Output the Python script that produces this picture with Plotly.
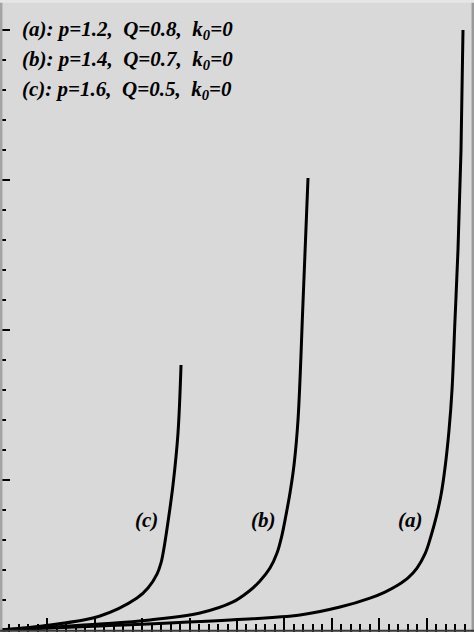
import plotly.graph_objects as go

# curve data
a_x = [0.0, 2.110, 4.852, 6.329, 7.173, 7.806, 8.122, 8.397, 8.608, 8.797, 8.966, 9.093,
       9.198, 9.304, 9.388, 9.473, 9.536, 9.599, 9.662, 9.726, 9.768]
a_y = [0.0, 0.027, 0.067, 0.100, 0.153, 0.213, 0.253, 0.300, 0.347, 0.413, 0.507, 0.627,
       0.747, 0.900, 1.080, 1.333, 1.600, 2.067, 2.533, 3.200, 4.000]

b_x = [0.0, 2.110, 3.165, 4.219, 4.916, 5.232, 5.485, 5.696, 5.844, 5.949, 6.034, 6.118,
       6.203, 6.287, 6.392, 6.498]
b_y = [0.0, 0.040, 0.067, 0.113, 0.187, 0.253, 0.327, 0.413, 0.513, 0.633, 0.767, 0.913,
       1.100, 1.400, 2.180, 3.013]

c_x = [0.0, 1.055, 2.110, 2.890, 3.122, 3.312, 3.397, 3.460, 3.544, 3.650, 3.755, 3.819]
c_y = [0.0, 0.033, 0.093, 0.213, 0.280, 0.373, 0.447, 0.547, 0.720, 0.967, 1.313, 1.767]

legend_lines = [
    "(a): p=1.2,  Q=0.8,  k<sub>0</sub>=0",
    "(b): p=1.4,  Q=0.7,  k<sub>0</sub>=0",
    "(c): p=1.6,  Q=0.5,  k<sub>0</sub>=0",
]
legend_y = [4.0, 3.8, 3.6]

curve_labels = ["(c)", "(b)", "(a)"]
curve_label_x = [3.10, 5.55, 8.65]
curve_label_y = [0.733, 0.733, 0.733]

BG = "#d9d9d9"
FONT = "Liberation Serif"

fig = go.Figure()
for xs, ys in [(a_x, a_y), (b_x, b_y), (c_x, c_y)]:
    fig.add_trace(go.Scatter(
        x=xs, y=ys, mode="lines",
        line=dict(color="black", width=3, shape="spline", smoothing=1.0),
        showlegend=False, hoverinfo="skip",
    ))

for txt, yy in zip(legend_lines, legend_y):
    fig.add_annotation(
        x=0.42, y=yy, text=txt, showarrow=False, xanchor="left", yanchor="middle",
        font=dict(family=FONT, size=21, color="black", weight="bold", style="italic"),
    )

for txt, xx, yy in zip(curve_labels, curve_label_x, curve_label_y):
    fig.add_annotation(
        x=xx, y=yy, text=txt, showarrow=False, xanchor="center", yanchor="middle",
        font=dict(family=FONT, size=21, color="black", weight="bold", style="italic"),
    )

# frame strips
fig.add_shape(type="line", xref="paper", yref="paper", x0=0.002, x1=0.002, y0=0, y1=1,
              line=dict(color="#a4a4a4", width=3))
fig.add_shape(type="line", xref="paper", yref="paper", x0=0.998, x1=0.998, y0=0, y1=1,
              line=dict(color="#9a9a9a", width=3))
fig.add_shape(type="line", xref="paper", yref="paper", x0=0, x1=1, y0=0.998, y1=0.998,
              line=dict(color="#e6e6e6", width=3))
fig.add_shape(type="line", xref="paper", yref="paper", x0=0, x1=1, y0=0.002, y1=0.002,
              line=dict(color="#3a3a3a", width=2))

fig.update_xaxes(
    range=[0, 10], showgrid=False, zeroline=False, showline=False, showticklabels=False,
    ticks="inside", tick0=0, dtick=1, ticklen=14, tickwidth=2, tickcolor="black",
    minor=dict(ticks="inside", dtick=0.2, ticklen=8, tickwidth=1.5, tickcolor="black", showgrid=False),
)
fig.update_yaxes(
    range=[-0.0133, 4.2], showgrid=False, zeroline=False, showline=False, showticklabels=False,
    ticks="inside", tick0=0, dtick=1, ticklen=10, tickwidth=2, tickcolor="black",
    minor=dict(ticks="inside", dtick=0.2, ticklen=6, tickwidth=2, tickcolor="black", showgrid=False),
)

fig.update_layout(
    width=474, height=632,
    margin=dict(l=0, r=0, t=0, b=0),
    paper_bgcolor=BG, plot_bgcolor=BG,
)

fig.write_html(
    "out.html",
    config={"displayModeBar": False},
    post_script="document.body.style.margin='0';document.body.style.overflow='hidden';",
)
